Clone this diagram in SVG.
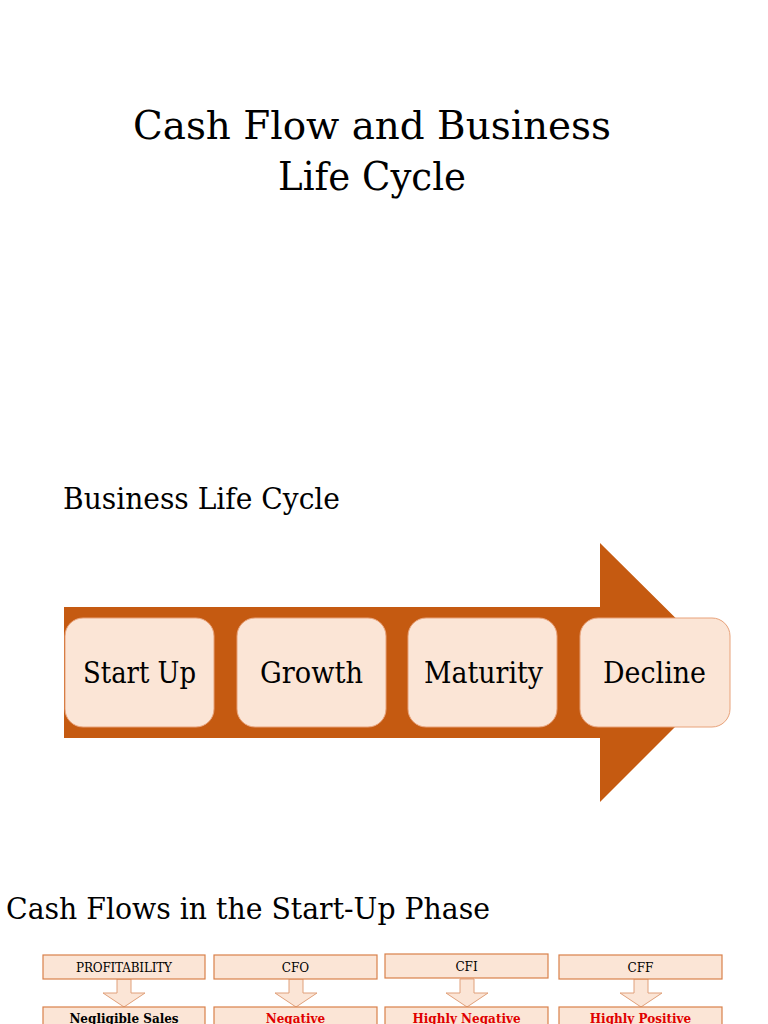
<svg xmlns="http://www.w3.org/2000/svg" width="768" height="1024" viewBox="0 0 768 1024">
<style>
.t{font-family:"DejaVu Serif","Liberation Serif",serif;fill:#000}
.stage{fill:#fbe5d6;stroke:#e8a27a;stroke-width:1}
.bx{fill:#fbe5d6;stroke:#d9804a;stroke-width:1.2}
.da{fill:#fbe5d6;stroke:#e0a07a;stroke-width:1}
.lbl{font-family:"DejaVu Serif","Liberation Serif",serif;font-size:12px;text-anchor:middle;lengthAdjust:spacingAndGlyphs}
</style>
<rect width="768" height="1024" fill="#fff"/>
<text class="t" x="133" y="139" font-size="40" textLength="478" lengthAdjust="spacingAndGlyphs">Cash Flow and Business</text>
<text class="t" x="278" y="190" font-size="40" textLength="188" lengthAdjust="spacingAndGlyphs">Life Cycle</text>
<text class="t" x="63" y="509" font-size="30" textLength="277" lengthAdjust="spacingAndGlyphs">Business Life Cycle</text>
<g id="big-arrow"><path d="M64 607H600V543L730 672L600 802V738H64Z" fill="#c55a11"/></g>
<g id="startup"><rect class="stage" x="65" y="618" width="149" height="109" rx="18"/><text class="t" x="83" y="683" font-size="30" textLength="113" lengthAdjust="spacingAndGlyphs">Start Up</text></g>
<g id="growth"><rect class="stage" x="237" y="618" width="149" height="109" rx="18"/><text class="t" x="260" y="683" font-size="30" textLength="103" lengthAdjust="spacingAndGlyphs">Growth</text></g>
<g id="maturity"><rect class="stage" x="408" y="618" width="149" height="109" rx="18"/><text class="t" x="424" y="683" font-size="30" textLength="119" lengthAdjust="spacingAndGlyphs">Maturity</text></g>
<g id="decline"><rect class="stage" x="580" y="618" width="150" height="109" rx="18"/><text class="t" x="603" y="683" font-size="30" textLength="103" lengthAdjust="spacingAndGlyphs">Decline</text></g>
<text class="t" x="6" y="919" font-size="30" textLength="484" lengthAdjust="spacingAndGlyphs">Cash Flows in the Start-Up Phase</text>
<g id="connectors">
<path class="da" d="M117 979h14v14h14l-21 14l-21-14h14z"/>
<path class="da" d="M289 979h14v14h14l-21 14l-21-14h14z"/>
<path class="da" d="M460 979h14v14h14l-21 14l-21-14h14z"/>
<path class="da" d="M634 979h14v14h14l-21 14l-21-14h14z"/>
</g>
<g id="profitability"><rect class="bx" x="43" y="955" width="162" height="24"/><text class="lbl" x="124" y="972" textLength="96">PROFITABILITY</text></g>
<g id="cfo"><rect class="bx" x="214" y="955" width="163" height="24"/><text class="lbl" x="295.5" y="972">CFO</text></g>
<g id="cfi"><rect class="bx" x="385" y="954" width="163" height="24"/><text class="lbl" x="466.5" y="971">CFI</text></g>
<g id="cff"><rect class="bx" x="559" y="955" width="163" height="24"/><text class="lbl" x="640.5" y="972">CFF</text></g>
<g id="negligible"><rect class="bx" x="43" y="1007" width="162" height="24"/><text class="lbl" x="124" y="1023" font-weight="bold">Negligible Sales</text></g>
<g id="negative"><rect class="bx" x="214" y="1007" width="163" height="24"/><text class="lbl" x="295.5" y="1023" font-weight="bold" fill="#e00000">Negative</text></g>
<g id="highly-negative"><rect class="bx" x="385" y="1007" width="163" height="24"/><text class="lbl" x="466.5" y="1023" font-weight="bold" fill="#e00000">Highly Negative</text></g>
<g id="highly-positive"><rect class="bx" x="559" y="1007" width="163" height="24"/><text class="lbl" x="640.5" y="1023" font-weight="bold" fill="#e00000">Highly Positive</text></g>
</svg>
